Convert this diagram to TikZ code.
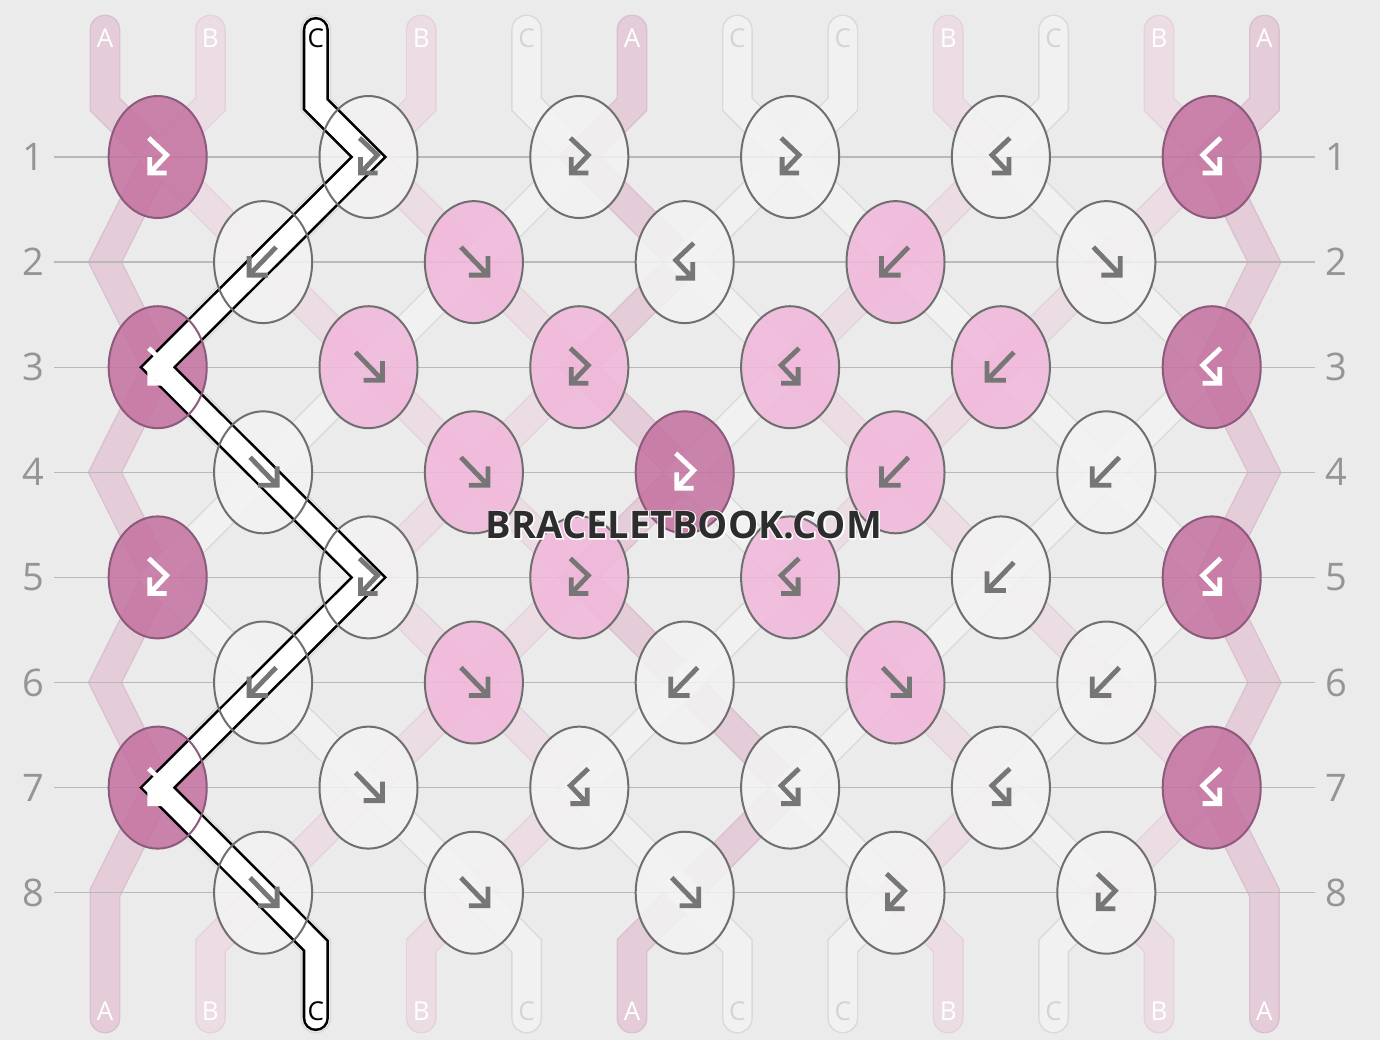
\documentclass[tikz,border=0pt]{standalone}
\usepackage{fontspec}
\setmainfont{Open Sans}
\usetikzlibrary{shapes.geometric}

\definecolor{bggrey}{HTML}{EBEBEB}
\definecolor{knotdark}{HTML}{C4719F}
\definecolor{knotpink}{HTML}{F2B7DB}
\definecolor{knotwhite}{HTML}{F3F3F3}
\definecolor{fillA}{HTML}{E4CCD9}
\definecolor{rimA}{HTML}{DAC0CE}
\definecolor{fillB}{HTML}{ECDDE5}
\definecolor{rimB}{HTML}{E3D1DB}
\definecolor{fillC}{HTML}{F1F1F1}
\definecolor{rimC}{HTML}{D9D9D9}
\definecolor{linegrey}{HTML}{B9B9B9}
\definecolor{numgrey}{HTML}{959595}
\definecolor{arrowgrey}{HTML}{767676}
\definecolor{rimgrey}{HTML}{6F6F6F}
\definecolor{rimdark}{HTML}{8C5A7A}
\definecolor{tagCgrey}{HTML}{D4D4D4}
\definecolor{wmgrey}{HTML}{2D2D2D}

\pgfdeclarelayer{strings}
\pgfsetlayers{strings,main}

\tikzset{
  band/.style={line width=0.7pt, double distance=14pt, line cap=round, line join=miter},
  strA/.style={band, draw=rimA, double=fillA},
  strB/.style={band, draw=rimB, double=fillB},
  strC/.style={band, draw=rimC, double=fillC},
  knot/.style={ellipse, inner sep=0pt, minimum width=49pt, minimum height=61pt, fill opacity=0.85},
  kd/.style={knot, fill=knotdark},
  kp/.style={knot, fill=knotpink},
  kw/.style={knot, fill=knotwhite},
  rim/.style={line width=1pt},
  rimd/.style={rim, draw=rimdark},
  rimp/.style={rim, draw=rimgrey},
  rimw/.style={rim, draw=rimgrey},
  glyph/.style={line width=2.4pt, line join=miter},
  gd/.style={glyph, draw=white, preaction={draw=arrowgrey, line width=3.6pt}},
  gp/.style={glyph, draw=arrowgrey, preaction={draw=white, line width=3.4pt}},
  gw/.style={glyph, draw=arrowgrey},
  hilite/.style={draw=black, line width=1.3pt, double=white, double distance=10.5pt, line cap=round, line join=miter},
  rowline/.style={draw=linegrey, line width=0.7pt},
  rownum/.style={text=numgrey, inner sep=5pt, font=\fontsize{19pt}{19pt}\selectfont},
  tag/.style={inner sep=0pt, font=\fontsize{13pt}{13pt}\selectfont},
  tagA/.style={tag, text=white},
  tagB/.style={tag, text=white},
  tagC/.style={tag, text=tagCgrey},
  tagH/.style={tag, text=black},
  wmtext/.style={text=wmgrey, font=\fontsize{19pt}{19pt}\selectfont\bfseries},
  wmhalo/.style={wmtext, text=white},
  pics/fw/.style={code={\draw[pic actions] (-13,-15) -- (14,13) (-5,13) -- (14,13) -- (14,-6);}},
  pics/bw/.style={code={\draw[pic actions] (13,-15) -- (-14,13) (5,13) -- (-14,13) -- (-14,-6);}},
  pics/fb/.style={code={\draw[pic actions] (-9,-19) -- (9,-2) -- (-8,16) (9,16) -- (-8,16) -- (-8,0);}},
  pics/bf/.style={code={\draw[pic actions] (9,-19) -- (-9,-2) -- (8,16) (-9,16) -- (8,16) -- (8,0);}},
}

% knot colour / knot type, row by row
\def\knotrows{1/{d/fb,w/fb,w/fb,w/fb,w/bf,d/bf},
  2/{w/bw,p/fw,w/bf,p/bw,w/fw},
  3/{d/fb,p/fw,p/fb,p/bf,p/bw,d/bf},
  4/{w/fw,p/fw,d/fb,p/bw,w/bw},
  5/{d/fb,w/fb,p/fb,p/bf,w/bw,d/bf},
  6/{w/bw,p/fw,w/bw,p/fw,w/bw},
  7/{d/fb,w/fw,w/bf,w/bf,w/bf,d/bf},
  8/{w/fw,w/fw,w/fw,w/fb,w/fb}}

\begin{document}
\begin{tikzpicture}[x=0.5pt, y=-0.5pt]
  % knots
  \foreach \r/\row in \knotrows {
    \pgfmathsetmacro\y{157+105.1*(\r-1)}
    \foreach \c/\g [count=\i] in \row {
      \pgfmathsetmacro\x{157.7+105.4*mod(\r+1,2)+210.8*(\i-1)}
      \node[k\c] (k\r-\i) at (\x,\y) {};
    }
  }
  % edge turns in even rows
  \foreach \r in {2,4,6,8} {
    \pgfmathsetmacro\y{157+105.1*(\r-1)}
    \coordinate (k\r-0) at (105,\y);
    \coordinate (k\r-6) at (1264.4,\y);
  }
  % string ends
  \foreach \p in {0,...,11} {
    \pgfmathsetmacro\xp{105+105.4*\p}
    \coordinate (t\p) at (\xp,30);
    \coordinate (u\p) at (\xp,104.3);
    \coordinate (v\p) at (\xp,945.7);
    \coordinate (b\p) at (\xp,1018);
  }
  % row numbers
  \foreach \r in {1,...,8} {
    \pgfmathsetmacro\y{157+105.1*(\r-1)}
    \node[rownum] (nl\r) at (33,\y) {\r};
    \node[rownum] (nr\r) at (1336,\y) {\r};
  }

  \begin{pgfonlayer}{strings}
    \fill[bggrey] (0,0) rectangle (1380,1040);
    \foreach \s/\a/\z/\via in {A/0/0/{1,0,1,0,1,0,1,0}, B/1/1/{1,1,2,2,3,2,2,1},
        C/2/2/{2,1,1,1,2,1,1,1}, B/3/3/{2,2,3,2,2,2,3,2}, C/4/4/{3,2,2,1,1,1,2,2},
        A/5/5/{3,3,3,3,3,3,4,3}, C/6/6/{4,3,4,3,4,3,3,3}, C/7/9/{4,4,5,5,6,5,5,5},
        B/8/10/{5,4,4,4,5,5,6,5}, C/9/7/{5,5,6,5,5,4,4,4}, B/10/8/{6,5,5,4,4,4,5,4},
        A/11/11/{6,6,6,6,6,6,6,6}}
      \draw[str\s] (t\a) -- (u\a) \foreach \i [count=\r] in \via {-- (k\r-\i.center)} -- (v\z) -- (b\z);
    \foreach \r in {1,...,8}
      \draw[rowline] (nl\r.east) -- (nr\r.west);
  \end{pgfonlayer}

  % the marked string
  \draw[hilite] (t2) -- (u2) -- (k1-2.center) -- (k2-1.center) -- (k3-1.center) -- (k4-1.center)
    -- (k5-2.center) -- (k6-1.center) -- (k7-1.center) -- (k8-1.center) -- (v2) -- (b2);

  % rims and knot arrows
  \foreach \r/\row in \knotrows {
    \foreach \c/\g [count=\i] in \row {
      \draw[rim\c] (k\r-\i.center) ellipse [x radius=49, y radius=61];
      \pic[g\c] at (k\r-\i) {\g};
    }
  }

  % string letters
  \foreach \l/\st [count=\p from 0] in {A/A,B/B,C/H,B/B,C/C,A/A,C/C,C/C,B/B,C/C,B/B,A/A} {
    \pgfmathsetmacro\xp{105+105.4*\p}
    \node[tag\st] (lt\p) at (\xp,38) {\l};
    \node[tag\st] (lb\p) at (\xp,1011) {\l};
  }

  \node[wmhalo] (wmback) at (684,525) {\addfontfeatures{FakeBold=6}BRACELETBOOK.COM};
  \node[wmtext] (wm) at (684,525) {BRACELETBOOK.COM};
\end{tikzpicture}
\end{document}
